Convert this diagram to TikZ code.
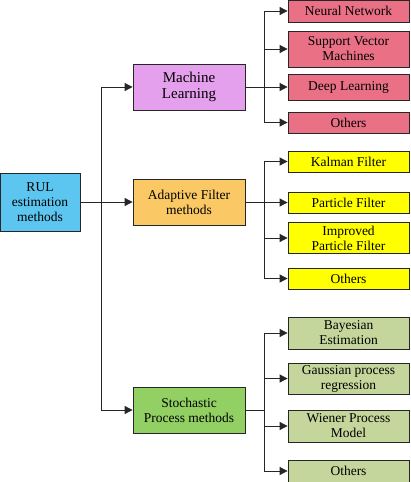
\documentclass[tikz,border=0pt]{standalone}
\usepackage{fontspec}
\setmainfont{Liberation Serif}
\usetikzlibrary{arrows.meta}

\definecolor{rulblue}{RGB}{92,198,240}
\definecolor{mlpurple}{RGB}{228,160,236}
\definecolor{mlpink}{RGB}{234,112,134}
\definecolor{aforange}{RGB}{250,200,100}
\definecolor{afyellow}{RGB}{255,255,0}
\definecolor{spgreen}{RGB}{146,208,100}
\definecolor{spolive}{RGB}{196,214,155}

\begin{document}
\begin{tikzpicture}[x=1pt, y=-1pt,
    box/.style={draw=black!85, line width=0.8pt, align=center, inner sep=0pt,
      font=\fontsize{13.5}{15}\selectfont},
    rootbox/.style={box, fill=rulblue, minimum width=80pt, minimum height=58pt},
    midbox/.style={box, minimum width=112pt, minimum height=46pt},
    leafbox/.style={box, minimum width=121pt},
    link/.style={line width=0.8pt, draw=black!85},
    arrow/.style={link, -{Triangle[length=8pt, width=8pt]}}]
      \useasboundingbox (0,0) rectangle (410,482);

      % root and methods
      \node[rootbox] (rul) at (40,202) {RUL\\estimation\\methods};
      \node[midbox, fill=mlpurple, font=\fontsize{15}{16}\selectfont] (ml) at (189,87) {Machine\\Learning};
      \node[midbox, fill=aforange] (af) at (189,202) {Adaptive Filter\\methods};
      \node[midbox, fill=spgreen] (sp) at (189,410) {Stochastic\\Process methods};

      % machine learning
      \node[leafbox, fill=mlpink, minimum height=22pt] (nn) at (348.5,11) {Neural Network};
      \node[leafbox, fill=mlpink, minimum height=36pt] (svm) at (348.5,49) {Support Vector\\Machines};
      \node[leafbox, fill=mlpink, minimum height=26pt] (dl) at (348.5,87) {Deep Learning};
      \node[leafbox, fill=mlpink, minimum height=21pt] (mlo) at (348.5,122.5) {Others};

      % adaptive filter
      \node[leafbox, fill=afyellow, minimum height=21pt] (kf) at (348.5,161.5) {Kalman Filter};
      \node[leafbox, fill=afyellow, minimum height=21pt] (pf) at (348.5,202.5) {Particle Filter};
      \node[leafbox, fill=afyellow, minimum height=31pt] (ipf) at (348.5,238) {Improved\\Particle Filter};
      \node[leafbox, fill=afyellow, minimum height=21pt] (afo) at (348.5,278.5) {Others};

      % stochastic process
      \node[leafbox, fill=spolive, minimum height=32pt] (be) at (348.5,333) {Bayesian\\Estimation};
      \node[leafbox, fill=spolive, minimum height=31pt] (gp) at (348.5,378.5) {Gaussian process\\regression};
      \node[leafbox, fill=spolive, minimum height=32pt] (wp) at (348.5,426) {Wiener Process\\Model};
      \node[leafbox, fill=spolive, minimum height=22pt] (spo) at (348.5,471) {Others};

      \coordinate (busR) at (101,202);
      \coordinate (busML) at (264,87);
      \coordinate (busAF) at (264,202);
      \coordinate (busSP) at (264,410);

      \draw[link] (rul.east) -- (busR);
      \foreach \n in {ml,af,sp}
        \draw[arrow] (busR) |- (\n.west);

      \draw[link] (ml.east) -- (busML);
      \foreach \n in {nn,svm,dl,mlo}
        \draw[arrow] (busML) |- (\n.west);

      \draw[link] (af.east) -- (busAF);
      \foreach \n in {kf,pf,ipf,afo}
        \draw[arrow] (busAF) |- (\n.west);

      \draw[link] (sp.east) -- (busSP);
      \foreach \n in {be,gp,wp,spo}
        \draw[arrow] (busSP) |- (\n.west);
\end{tikzpicture}
\end{document}
